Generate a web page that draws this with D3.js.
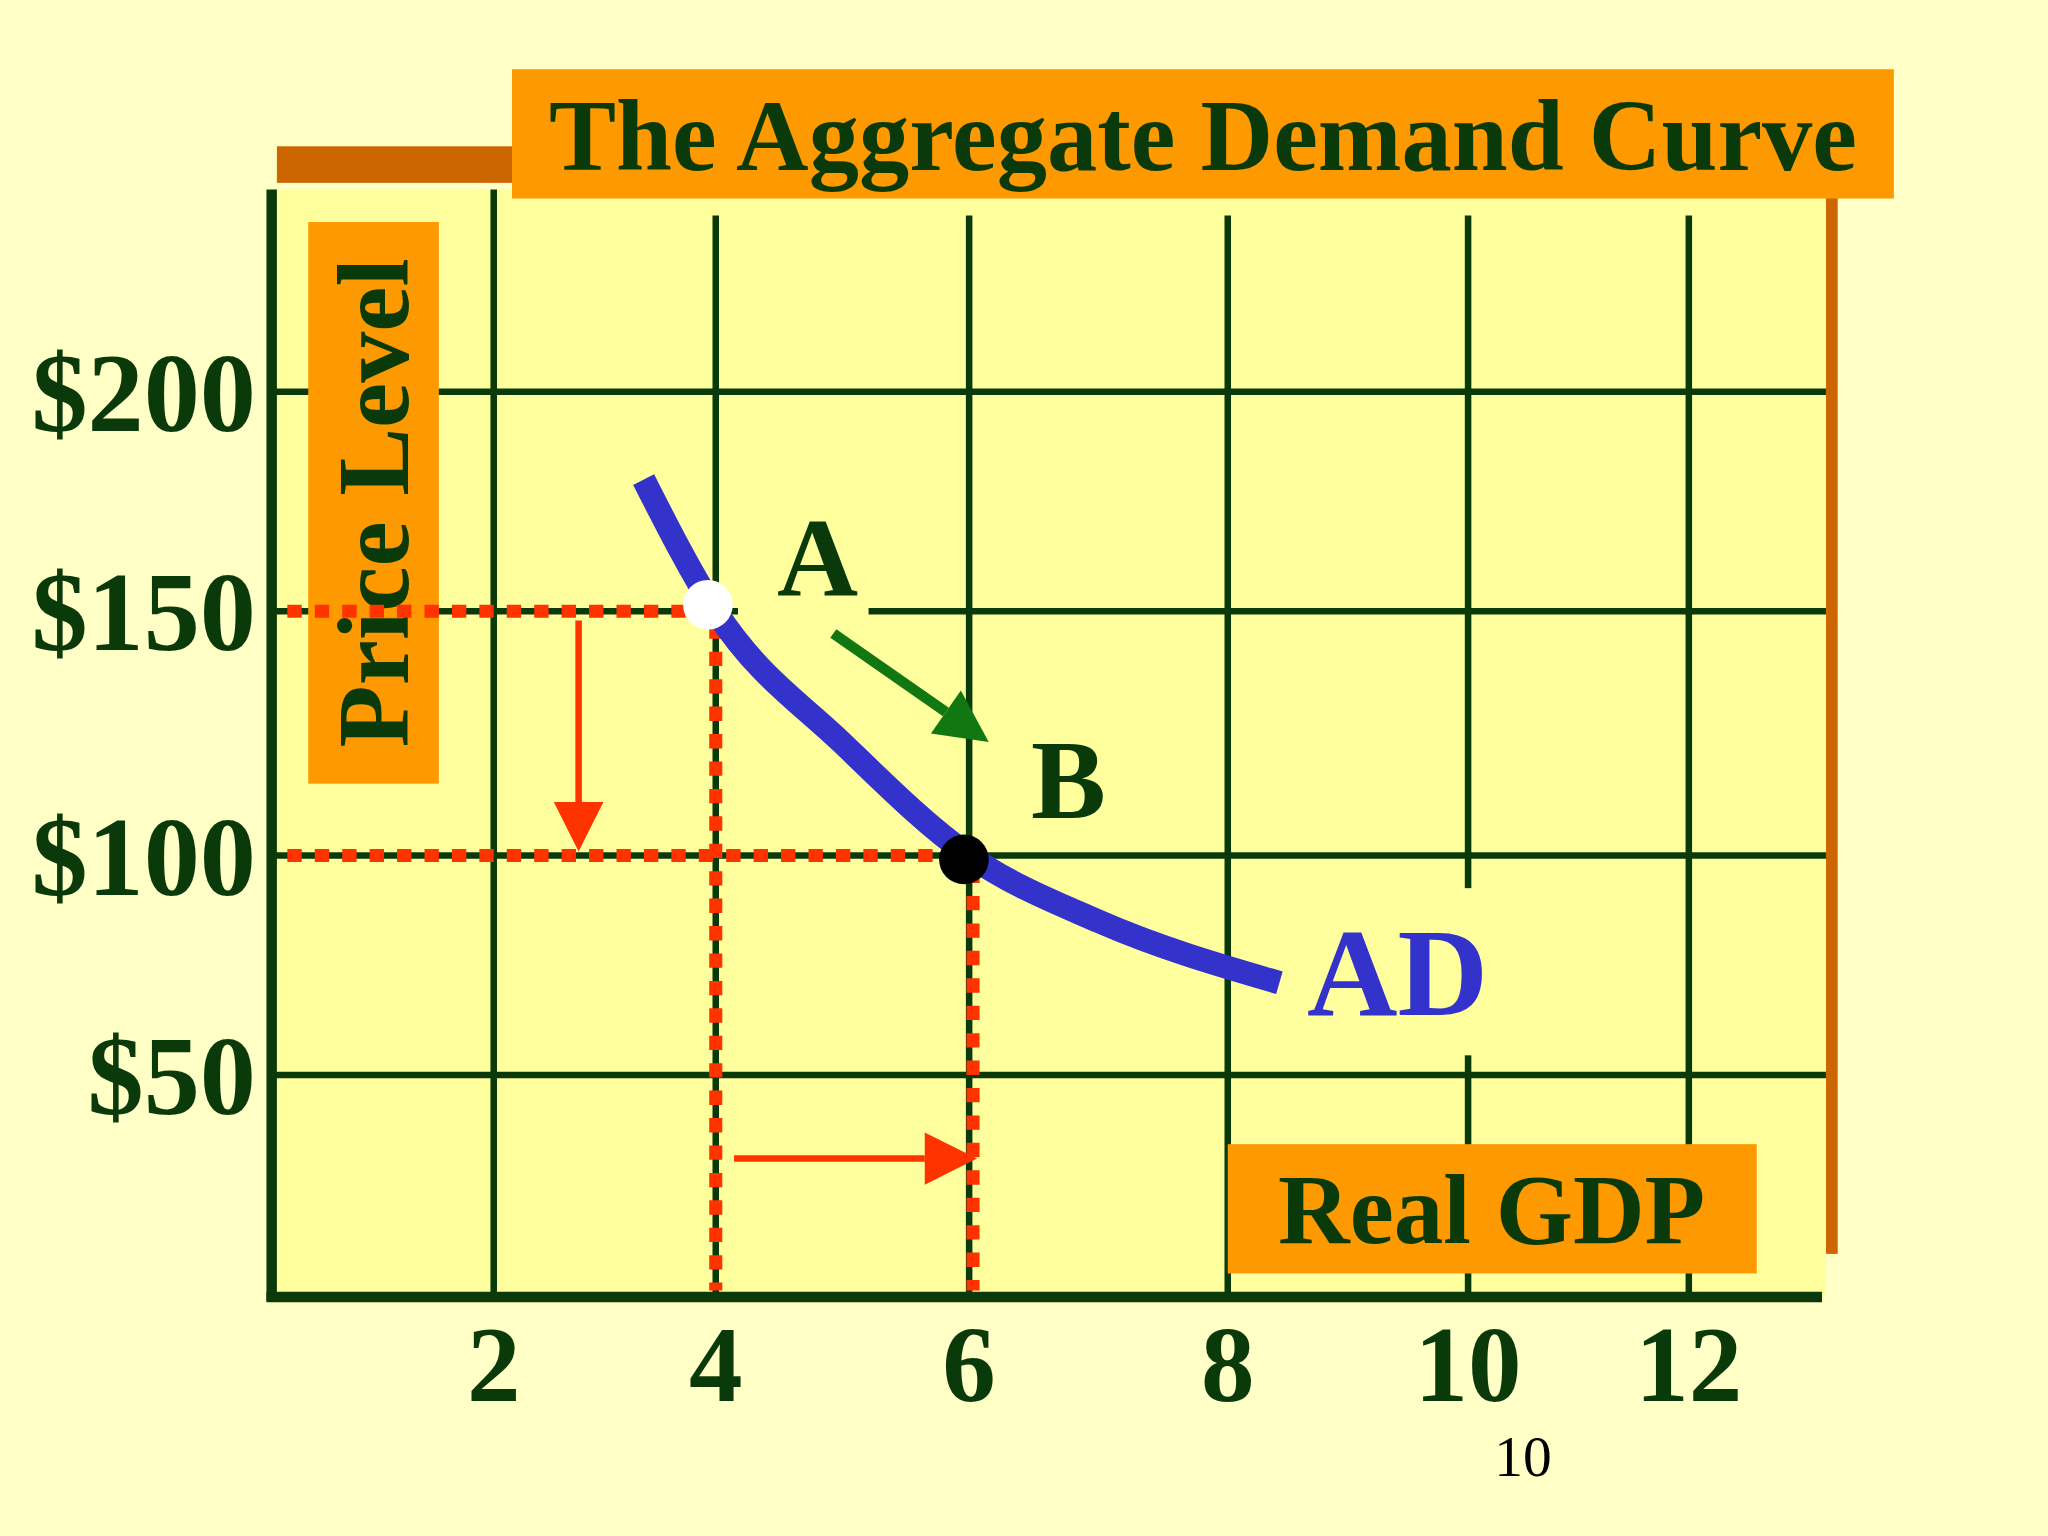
<!DOCTYPE html>
<html><head><meta charset="utf-8">
<script src="https://cdn.jsdelivr.net/npm/d3@7"></script>
<style>html,body{margin:0;padding:0;background:#FFFFC6;}svg{display:block}</style>
</head><body>
<script>
const title = "The Aggregate Demand Curve";
const yLabel = "Price Level";
const xLabel = "Real GDP";
const xTicks = [2,4,6,8,10,12];
const yTicks = [200,150,100,50];
const yTickLabels = ["$200","$150","$100","$50"];
const adX = [3.35,4,5,6,7,8.43];
const adY = [180,150,123,100,85,71];
const pointA = {x:4,y:150,label:"A"};
const pointB = {x:6,y:100,label:"B"};
const curveLabel = "AD";
const pageNum = "10";

const W=1568,H=1176;
const svg=d3.select("body").append("svg").attr("width",2048).attr("height",1536)
  .attr("viewBox",`0 0 ${W} ${H}`);
const green="#0A3A0A", orange="#FF9900", red="#FF3300", font="'Liberation Serif','Times New Roman',serif";
svg.append("rect").attr("width",W).attr("height",H).attr("fill","#FFFFC6");

const x=d3.scaleLinear().domain([0,2,4,6,8,10,12]).range([208,378,548,742,940,1124,1293]);
const y=d3.scaleLinear().domain([200,150,100,50,0]).range([300,468,655,823,993]);

svg.append("rect").attr("x",212).attr("y",112).attr("width",185).attr("height",28).attr("fill","#CC6600");
svg.append("rect").attr("x",1398).attr("y",150).attr("width",9).attr("height",810).attr("fill","#CC6600");
svg.append("rect").attr("x",208).attr("y",145).attr("width",1190).attr("height",848).attr("fill","#FFFF9E");

const g=svg.append("g");
g.selectAll(".vg").data(xTicks).join("line").attr("x1",d=>x(d)).attr("x2",d=>x(d))
  .attr("y1",d=>d===2?145:165).attr("y2",993).attr("stroke",green).attr("stroke-width",5);
g.selectAll(".hg").data(yTicks).join("line").attr("x1",208).attr("x2",1398)
  .attr("y1",d=>y(d)).attr("y2",d=>y(d)).attr("stroke",green).attr("stroke-width",5);
g.append("rect").attr("x",565).attr("y",455).attr("width",100).attr("height",25).attr("fill","#FFFF9E");
g.append("rect").attr("x",1110).attr("y",680).attr("width",30).attr("height",128).attr("fill","#FFFF9E");
g.append("line").attr("x1",208).attr("x2",208).attr("y1",145).attr("y2",996).attr("stroke",green).attr("stroke-width",8);
g.append("line").attr("x1",204).attr("x2",1395).attr("y1",993).attr("y2",993).attr("stroke",green).attr("stroke-width",8);

g.selectAll(".yt").data(yTicks).join("text").attr("x",196).attr("y",d=>y(d)+30)
  .attr("text-anchor","end").attr("font-family",font).attr("font-weight","bold").attr("font-size",86)
  .attr("fill",green).text((d,i)=>yTickLabels[i]);
g.selectAll(".xt").data(xTicks).join("text").attr("x",d=>x(d)).attr("y",1073)
  .attr("text-anchor","middle").attr("font-family",font).attr("font-weight","bold").attr("font-size",82)
  .attr("fill",green).text(d=>d);

g.append("rect").attr("x",236).attr("y",170).attr("width",100).attr("height",430).attr("fill",orange);
g.append("text").attr("transform","translate(312,385) rotate(-90)").attr("text-anchor","middle")
  .attr("font-family",font).attr("font-weight","bold").attr("font-size",78).attr("fill",green).text(yLabel);
g.append("rect").attr("x",940).attr("y",876).attr("width",405).attr("height",99).attr("fill",orange);
g.append("text").attr("x",1142).attr("y",952).attr("text-anchor","middle")
  .attr("font-family",font).attr("font-weight","bold").attr("font-size",76).attr("fill",green).text(xLabel);

const dash={"stroke":red,"stroke-width":10,"stroke-dasharray":"11,10"};
function dl(x1,y1,x2,y2){const l=g.append("line").attr("x1",x1).attr("y1",y1).attr("x2",x2).attr("y2",y2);for(const k in dash)l.attr(k,dash[k]);}
dl(220,y(pointA.y),x(pointA.x),y(pointA.y));
dl(220,y(pointB.y),x(pointB.x),y(pointB.y));
dl(x(pointA.x),y(pointA.y)+10,x(pointA.x),988);
dl(x(pointB.x)+3,y(pointB.y)+10,x(pointB.x)+3,988);

function arrow(x1,y1,x2,y2,col,w,hs){
  const a=Math.atan2(y2-y1,x2-x1);
  const bx=x2-hs*Math.cos(a), by=y2-hs*Math.sin(a);
  g.append("line").attr("x1",x1).attr("y1",y1).attr("x2",bx).attr("y2",by).attr("stroke",col).attr("stroke-width",w);
  const p=[[x2,y2],[bx+hs*0.5*Math.sin(a),by-hs*0.5*Math.cos(a)],[bx-hs*0.5*Math.sin(a),by+hs*0.5*Math.cos(a)]];
  g.append("path").attr("d","M"+p.join("L")+"Z").attr("fill",col);
}
arrow(443,475,443,652,red,5,38);
arrow(562,887,748,887,red,5,40);
arrow(638,485,757,568,"#117711",8,40);

const line=d3.line().x(d=>x(d[0])).y(d=>y(d[1])).curve(d3.curveMonotoneX);
g.append("path").attr("d",line(adX.map((v,i)=>[v,adY[i]]))).attr("fill","none")
  .attr("stroke","#3333CC").attr("stroke-width",18);
g.append("circle").attr("cx",x(pointA.x)-6).attr("cy",y(pointA.y)-5).attr("r",19).attr("fill","#fff");
g.append("circle").attr("cx",x(pointB.x)-4).attr("cy",y(pointB.y)+3).attr("r",19).attr("fill","#000");
g.append("text").attr("x",626).attr("y",456).attr("text-anchor","middle").attr("font-family",font).attr("font-weight","bold")
  .attr("font-size",86).attr("fill",green).text(pointA.label);
g.append("text").attr("x",818).attr("y",626).attr("text-anchor","middle").attr("font-family",font).attr("font-weight","bold")
  .attr("font-size",86).attr("fill",green).text(pointB.label);
g.append("text").attr("x",1070).attr("y",777).attr("text-anchor","middle").attr("font-family",font).attr("font-weight","bold")
  .attr("font-size",96).attr("fill","#3333CC").text(curveLabel);

svg.append("rect").attr("x",392).attr("y",53).attr("width",1058).attr("height",99).attr("fill",orange);
svg.append("text").attr("x",921).attr("y",130).attr("text-anchor","middle").attr("font-family",font).attr("font-weight","bold")
  .attr("font-size",77).attr("fill",green).text(title);
svg.append("text").attr("x",1166).attr("y",1130).attr("text-anchor","middle").attr("font-family",font)
  .attr("font-size",44).attr("fill","#000").text(pageNum);
</script>
</body></html>
